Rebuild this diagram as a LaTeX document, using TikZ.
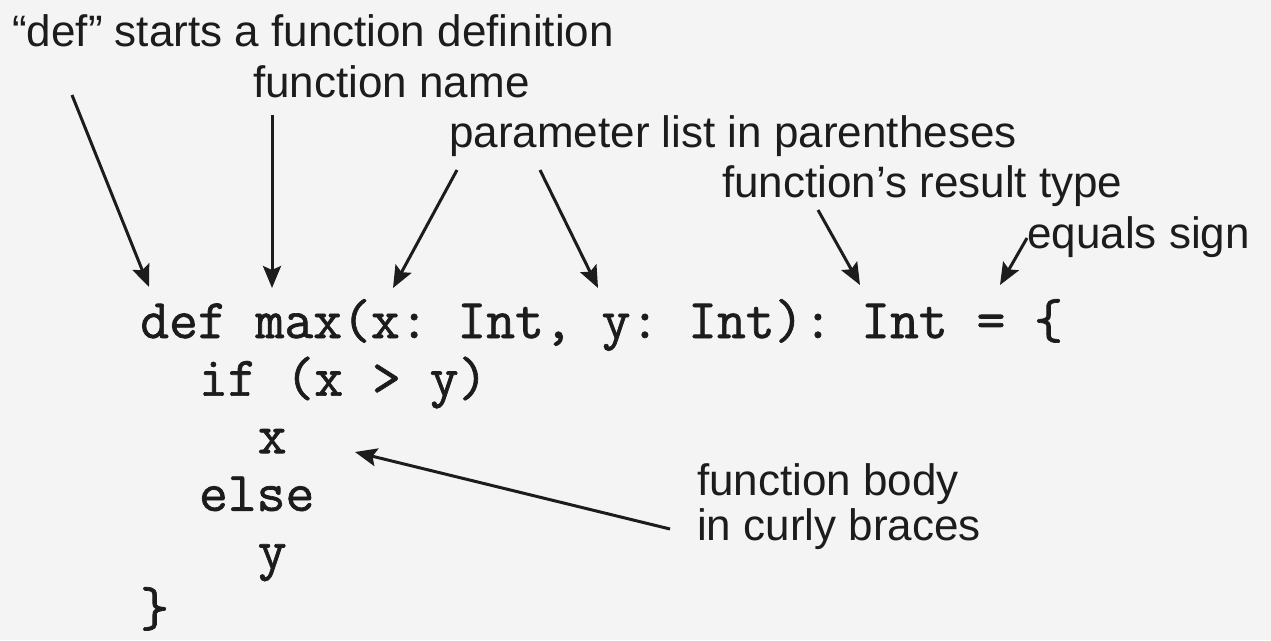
\documentclass[tikz,border=0pt]{standalone}
\usepackage{fontspec}
\setmainfont{Liberation Sans}
\newfontfamily\codefont{Latin Modern Mono}[FakeBold=1.2]
\usetikzlibrary{positioning, arrows.meta}
\definecolor{bgcol}{RGB}{244,244,244}
\definecolor{ink}{RGB}{28,28,28}
\tikzset{
	lbl/.style={
		anchor=base west,
		inner sep=0pt,
		text=ink,
		font=\fontsize{44pt}{45pt}\selectfont,
	},
	code/.style={
		anchor=base west,
		inner sep=0pt,
		text=ink,
		font=\codefont\fontsize{56pt}{57pt}\selectfont\frenchspacing,
	},
	pointer/.style={
		->,
		draw=ink,
		line width=3pt,
	},
}

\begin{document}
\begin{tikzpicture}[x=1pt, y=-1pt, >={Stealth[length=22pt, width=18pt, inset=4pt]}]

	\fill[bgcol] (0,0) rectangle (1271,640);

	% labels
	\node [lbl] (def) at (12,46) {“def” starts a function definition};
	\node [lbl] (name) at (253,97) {function name};
	\node [lbl] (param) at (449,147) {parameter list in parentheses};
	\node [lbl] (type) at (722,197) {function’s result type};
	\node [lbl] (eq) at (1027,248) {equals sign};
	\node [lbl, align=left] (body) at (697,540) {function body\\in curly braces};

	% code
	\node [code] (c1) at (140,338) {def max(x: Int, y: Int): Int = \{};
	\node [code, below=57.6pt of c1.base west, anchor=base west, xshift=58.8pt] (c2) {if (x > y)};
	\node [code, below=57.6pt of c2.base west, anchor=base west, xshift=58.8pt] (c3) {x};
	\node [code, below=57.6pt of c3.base west, anchor=base west, xshift=-58.8pt] (c4) {else};
	\node [code, below=57.6pt of c4.base west, anchor=base west, xshift=58.8pt] (c5) {y};
	\node [code, below=57.6pt of c5.base west, anchor=base west, xshift=-117.6pt] (c6) {\}};

	% pointers
	\coordinate (t1) at (72,95);   \coordinate (h1) at (149,287);
	\coordinate (t2) at (272,115); \coordinate (h2) at (272,288);
	\coordinate (t3) at (457,170); \coordinate (h3) at (393,288);
	\coordinate (t4) at (540,170); \coordinate (h4) at (598,288);
	\coordinate (t5) at (818,210); \coordinate (h5) at (860,285);
	\coordinate (t6) at (1027,238); \coordinate (h6) at (1000,285);
	\coordinate (t7) at (670,529); \coordinate (h7) at (355,452);

	\draw [pointer] (t1) -- (h1);
	\draw [pointer] (t2) -- (h2);
	\draw [pointer] (t3) -- (h3);
	\draw [pointer] (t4) -- (h4);
	\draw [pointer] (t5) -- (h5);
	\draw [pointer] (t6) -- (h6);
	\draw [pointer] (t7) -- (h7);

\end{tikzpicture}
\end{document}
